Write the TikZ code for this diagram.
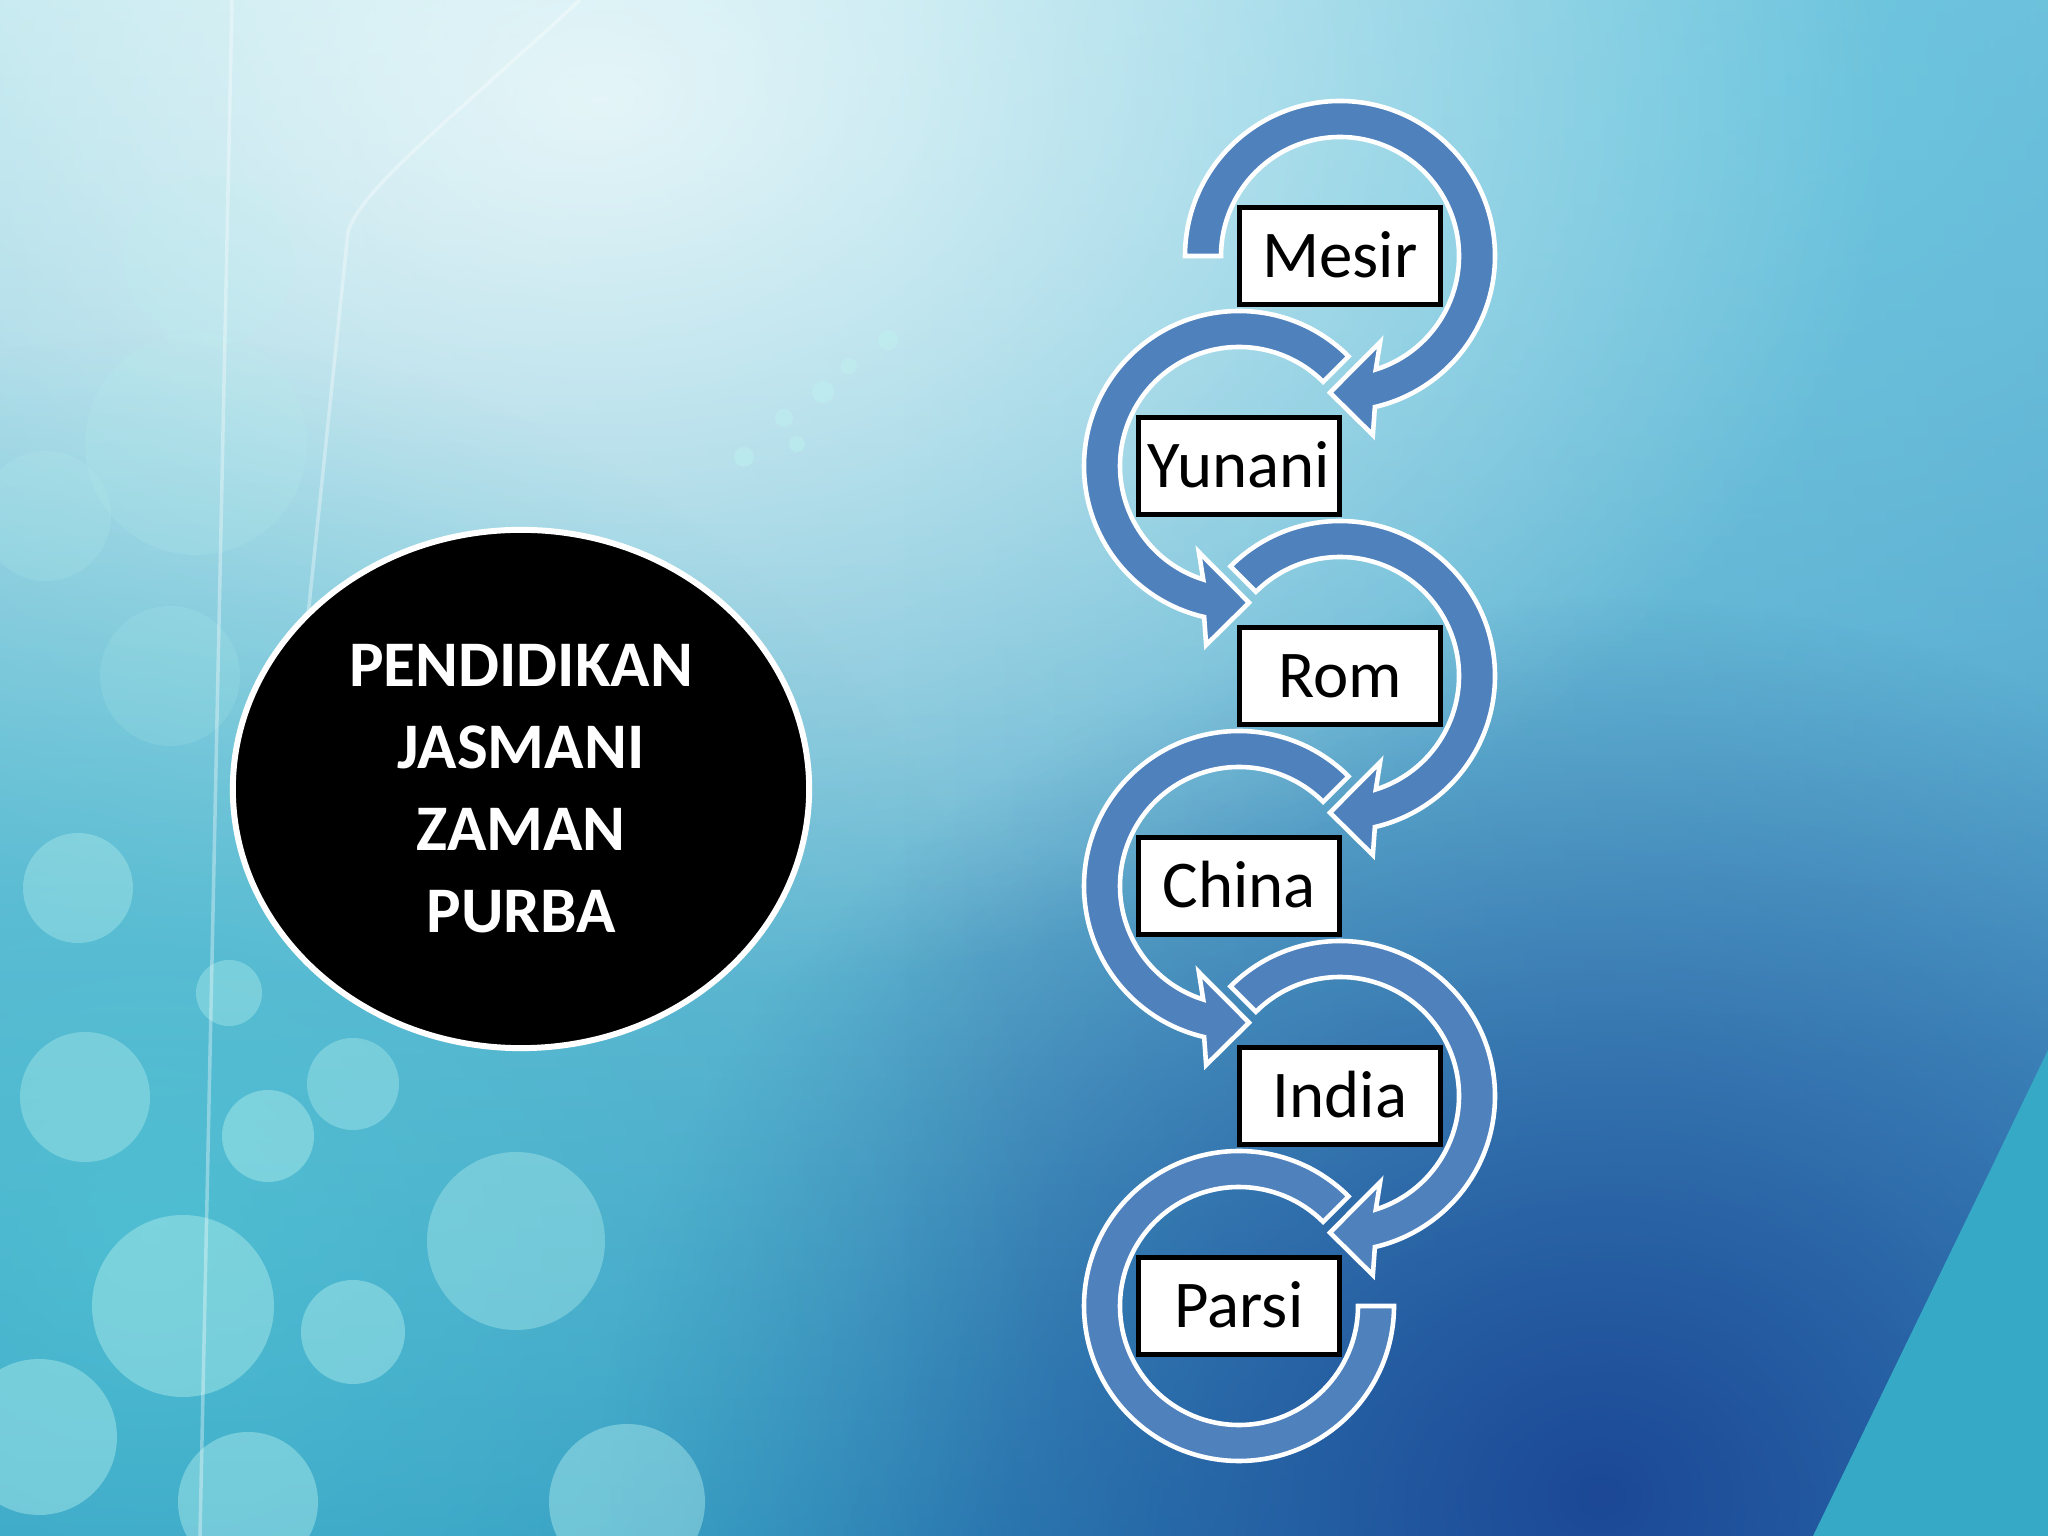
\documentclass[tikz,border=0pt]{standalone}
\usepackage{fontspec}
\setmainfont{Carlito}
\usetikzlibrary{calc,shapes.geometric,fadings}

\definecolor{ringblue}{RGB}{79,129,189}
\definecolor{bgtop}{RGB}{165,222,232}
\definecolor{bgbot}{RGB}{52,150,192}
\definecolor{bgdeep}{RGB}{28,72,150}
\definecolor{bgright}{RGB}{62,140,196}
\definecolor{bgcyan}{RGB}{80,200,214}
\definecolor{bgsky}{RGB}{100,200,224}
\definecolor{bgwedge}{RGB}{54,169,198}
\definecolor{bokehtint}{RGB}{190,245,240}

\tikzfading[name=softdisc, inner color=transparent!0, outer color=transparent!100]
\tikzfading[name=towardright, left color=transparent!100, right color=transparent!0]

\tikzset{
  ringband/.style={fill=ringblue, draw=white, line width=1.3pt, line join=miter},
  negeri/.style={draw=black, fill=white, line width=1.4pt,
    minimum width=2.01cm, minimum height=0.97cm, inner sep=0pt,
    text height=0.43cm, text depth=0pt, font=\fontsize{19}{19}\selectfont},
  bokeh/.style={fill=bokehtint, opacity=#1},
}

\begin{document}
\begin{tikzpicture}[x=0.01cm, y=0.01cm]
  \useasboundingbox (0,0) rectangle (2048,1536);
  % latar belakang
  \shade[top color=bgtop, bottom color=bgbot] (0,0) rectangle (2048,1536);
  \fill[bgright, opacity=0.45, path fading=towardright] (900,0) rectangle (2048,1536);
  \fill[bgsky, opacity=0.7, path fading=softdisc] (1750,1450) ellipse (1400 and 1000);
  \fill[bgdeep, path fading=softdisc] (1600,40) ellipse (1000 and 900);
  \fill[white, opacity=0.75, path fading=softdisc] (600,1436) ellipse (1300 and 900);
  \fill[bgcyan, opacity=0.7, path fading=softdisc] (150,300) ellipse (900 and 900);
  \fill[bgwedge] (1813,0) -- (1987,359) -- (2048,486) -- (2048,0) -- cycle;
  \foreach \x/\y/\r/\o in {78/648/55/0.35, 196/1092/111/0.15, 209/1275/85/0.15,
      516/295/89/0.35, 183/230/91/0.4, 353/204/52/0.4, 268/400/46/0.4,
      353/452/46/0.35, 85/439/65/0.35, 39/99/78/0.4, 229/543/33/0.35,
      248/34/70/0.4, 627/34/78/0.4, 46/1020/65/0.15, 170/860/70/0.15}
    \fill[bokeh=\o] (\x,\y) circle (\r);
  \foreach \x/\y/\r in {744/1079/10, 784/1118/9, 823/1144/11, 849/1170/8,
      888/1196/10, 797/1092/8}
    \fill[bokeh=0.4] (\x,\y) circle (\r);
  \draw[white, opacity=0.35, line width=1pt] (232,1536) -- (200,0);
  \draw[white, opacity=0.35, line width=1pt] (580,1536) .. controls (450,1416) and (360,1346) .. (348,1304) -- (285,700);

  % tajuk
  \node[ellipse, fill=black, draw=white, line width=1.7pt,
    minimum width=5.76cm, minimum height=5.18cm, inner sep=0pt,
    align=center, text=white, font=\bfseries\fontsize{18.5}{23.3}\selectfont]
    (judul) at (521,747) {PENDIDIKAN\\JASMANI\\ZAMAN\\PURBA};

  % pusat setiap gelung
  \coordinate (cMesir) at (1340,1280);
  \coordinate (cYunani) at (1239,1070);
  \coordinate (cRom) at (1340,860);
  \coordinate (cChina) at (1239,650);
  \coordinate (cIndia) at (1340,440);
  \coordinate (cParsi) at (1239,230);

  % gelung kanan, ikut arah jam
  \foreach \c/\a in {cMesir/180, cRom/135, cIndia/135}
    \draw[ringband] ($(\c)+(\a:155)$) arc[start angle=\a, end angle=-77, radius=155]
      -- ($(\c)+(-79.6:182)$) -- ($(\c)+(-94.2:137)$) -- ($(\c)+(-65:95)$)
      -- ($(\c)+(-72.5:119)$) arc[start angle=-72.5, end angle=\a, radius=119] -- cycle;
  % gelung kiri, lawan arah jam
  \foreach \c in {cYunani, cChina}
    \draw[ringband] ($(\c)+(45:155)$) arc[start angle=45, end angle=257, radius=155]
      -- ($(\c)+(259.6:182)$) -- ($(\c)+(274.2:137)$) -- ($(\c)+(245:95)$)
      -- ($(\c)+(252.5:119)$) arc[start angle=252.5, end angle=45, radius=119] -- cycle;
  \draw[ringband] ($(cParsi)+(45:155)$) arc[start angle=45, end angle=360, radius=155]
    -- ($(cParsi)+(0:119)$) arc[start angle=360, end angle=45, radius=119] -- cycle;

  % kotak negeri
  \node[negeri] (mesir) at (cMesir) {Mesir};
  \node[negeri] (yunani) at (cYunani) {Yunani};
  \node[negeri] (rom) at (cRom) {Rom};
  \node[negeri] (china) at (cChina) {China};
  \node[negeri] (india) at (cIndia) {India};
  \node[negeri] (parsi) at (cParsi) {Parsi};
\end{tikzpicture}
\end{document}
